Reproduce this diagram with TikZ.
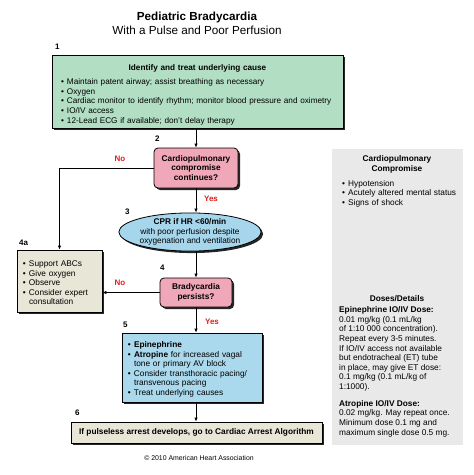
\documentclass[tikz,border=0pt]{standalone}
\usepackage{fontspec}
\setmainfont{Liberation Sans}
\usetikzlibrary{shapes.geometric,shadows,arrows.meta}
\definecolor{boxgreen}{RGB}{178,222,196}
\definecolor{boxpink}{RGB}{240,168,184}
\definecolor{boxblue}{RGB}{170,216,236}
\definecolor{ellblue}{RGB}{166,214,236}
\definecolor{boxbeige}{RGB}{232,230,214}
\definecolor{panelgray}{RGB}{233,233,233}
\definecolor{labred}{RGB}{222,30,30}
\newcommand{\bul}[1]{\par\noindent\hbox to 6pt{\textbullet\hfil}#1}
\newcommand{\bulA}[1]{\par\noindent\hbox to 10pt{\hskip4pt\textbullet\hfil}#1}
\newcommand{\cont}[1]{\par\noindent\hbox to 6pt{\hfil}#1}
\begin{document}
\begin{tikzpicture}[x=1pt,y=-1pt,
  body/.style={font=\fontsize{8.3}{9.6}\selectfont},
  shad/.style={drop shadow={shadow xshift=2pt,shadow yshift=-2pt,fill=black,opacity=0.85}},
  box/.style={draw=black,line width=0.8pt,shad,inner ysep=0pt,inner xsep=6pt,body},
  arr/.style={line width=0.8pt,-{Latex[length=4pt,width=3.5pt]}},
  num/.style={font=\fontsize{8}{9}\selectfont\bfseries,inner sep=0pt},
  ans/.style={font=\fontsize{8}{9}\selectfont\bfseries,text=labred,inner sep=0pt},
  ptext/.style={body,inner sep=0pt,align=left,anchor=north west}]
\path[fill=white] (0,0) rectangle (474,475);
\useasboundingbox (0,0) rectangle (474,475);

% title
\node[font=\fontsize{11.7}{14}\selectfont,align=center] (title) at (197,23)
  {\textbf{Pediatric Bradycardia}\\With a Pulse and Poor Perfusion};

% side panel
\node[fill=panelgray,minimum width=131pt,minimum height=296pt,inner sep=0pt] (panel) at (397.5,297) {};
\node[body,align=center,font=\fontsize{8.3}{9.8}\selectfont\bfseries] (cptitle) at (397,164) {Cardiopulmonary\\Compromise};
\node[ptext,text width=118pt] (cplist) at (342,176.5)
  {\bul{Hypotension}\bul{Acutely altered mental status}\bul{Signs of shock}};
\node[body,font=\fontsize{8.3}{9.6}\selectfont\bfseries] (dtitle) at (397,299) {Doses/Details};
\node[ptext] (dose1) at (339,306.5)
  {\textbf{Epinephrine IO/IV Dose:}\\0.01 mg/kg (0.1 mL/kg\\of 1:10 000 concentration).\\Repeat every 3-5 minutes.\\If IO/IV access not available\\but endotracheal (ET) tube\\in place, may give ET dose:\\0.1 mg/kg (0.1 mL/kg of\\1:1000).};
\node[ptext] (dose2) at (339,400)
  {\textbf{Atropine IO/IV Dose:}\\0.02 mg/kg. May repeat once.\\Minimum dose 0.1 mg and\\maximum single dose 0.5 mg.};

% box 1
\node[box,fill=boxgreen,inner xsep=5pt,text width=281pt,minimum height=73pt,align=left,font=\fontsize{8.2}{9.6}\selectfont] (b1) at (197.5,91.5)
  {\vskip 3pt\centerline{\bfseries Identify and treat underlying cause}\par\vskip 4.2pt
   \bulA{Maintain patent airway; assist breathing as necessary}
   \bulA{Oxygen}
   \bulA{Cardiac monitor to identify rhythm; monitor blood pressure and oximetry}
   \bulA{IO/IV access}
   \bulA{12-Lead ECG if available; don't delay therapy}};
\node[num,anchor=west] (n1) at (55,47) {1};

% box 2
\node[box,fill=boxpink,rounded corners=4pt,minimum width=84pt,minimum height=40pt,inner xsep=2pt,align=center,font=\fontsize{8.3}{9.6}\selectfont\bfseries] (b2) at (196,168)
  {Cardiopulmonary\\compromise\\continues?};
\node[num,anchor=west] (n2) at (155,139) {2};

% ellipse 3
\node[ellipse,draw=black,line width=0.8pt,shad,fill=ellblue,minimum width=142pt,minimum height=38pt,inner sep=0pt,align=center,body] (e3) at (190,232)
  {\textbf{CPR if HR <60/min}\\with poor perfusion despite\\oxygenation and ventilation};
\node[num,anchor=west] (n3) at (125,212) {3};

% box 4a
\node[box,fill=boxbeige,text width=73pt,minimum height=62pt,align=left] (b4a) at (59.5,281)
  {\bul{Support ABCs}\bul{Give oxygen}\bul{Observe}\bul{Consider expert}\cont{consultation}};
\node[num,anchor=west] (n4a) at (19,243) {4a};

% box 4
\node[box,fill=boxpink,rounded corners=4pt,minimum width=72pt,minimum height=29pt,inner xsep=2pt,align=center,font=\fontsize{8.3}{9.6}\selectfont\bfseries] (b4) at (196,292.5)
  {Bradycardia\\persists?};
\node[num,anchor=west] (n4) at (160,268) {4};

% box 5
\node[box,fill=boxblue,text width=128pt,minimum height=69pt,align=left] (b5) at (192,367.5)
  {\bul{\textbf{Epinephrine}}
   \bul{\textbf{Atropine} for increased vagal}\cont{tone or primary AV block}
   \bul{Consider transthoracic pacing/}\cont{transvenous pacing}
   \bul{Treat underlying causes}};
\node[num,anchor=west] (n5) at (123,325) {5};

% box 6
\node[box,fill=boxbeige,minimum width=251pt,minimum height=21pt,font=\fontsize{8.3}{9.6}\selectfont\bfseries] (b6) at (196.5,432.5)
  {If pulseless arrest develops, go to Cardiac Arrest Algorithm};
\node[num,anchor=west] (n6) at (75,413) {6};

% answers
\node[ans] (no1) at (120,159) {No};
\node[ans] (yes1) at (211,199) {Yes};
\node[ans] (no2) at (120,283) {No};
\node[ans] (yes2) at (212,322) {Yes};

% connectors
\draw[arr] (b2.north |- b1.south) -- (b2.north);
\draw[arr] (b2.south) -- (b2.south |- e3.north);
\draw[arr] (b2.west) -| (b4a.north);
\draw[arr] (b4.north |- e3.south) -- (b4.north);
\draw[arr] (b4.west) -- (b4.west -| b4a.east);
\draw[arr] (b4.south) -- (b4.south |- b5.north);
\draw[arr] (b4.south |- b5.south) -- (b4.south |- b6.north);

% copyright
\node[font=\fontsize{6.9}{8}\selectfont] (copy) at (199,458) {\textcopyright{} 2010 American Heart Association};
\end{tikzpicture}
\end{document}
